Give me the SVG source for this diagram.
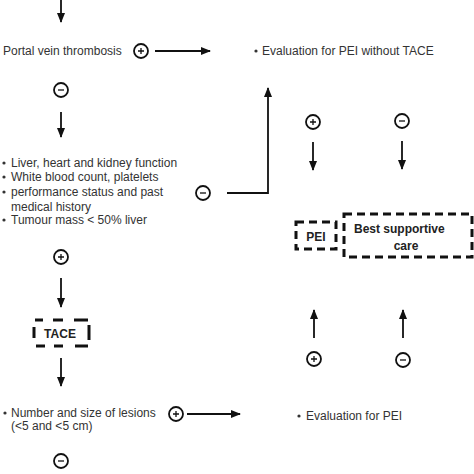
<svg xmlns="http://www.w3.org/2000/svg" width="474" height="474" viewBox="0 0 474 474">
<defs>
<marker id="ah" markerWidth="10" markerHeight="10" refX="9" refY="5" orient="auto" markerUnits="userSpaceOnUse">
<path d="M0,1 L10,5 L0,9 Z" fill="#111"/>
</marker>
<g id="plus"><circle cx="0" cy="0" r="7" fill="#fff" stroke="#111" stroke-width="1.8"/><path d="M-3,0 H3 M0,-3 V3" stroke="#111" stroke-width="1.3"/></g>
<g id="minus"><circle cx="0" cy="0" r="7" fill="#fff" stroke="#111" stroke-width="1.8"/><path d="M-3,0 H3" stroke="#111" stroke-width="1.3"/></g>
</defs>
<style>
text{font-family:"Liberation Sans",Arial,sans-serif;font-size:12px;fill:#333}
.b{font-weight:bold;fill:#222}
.c{fill:none;stroke:#111;stroke-width:1.8}
.box{fill:#fff;stroke:#111;stroke-width:3;stroke-dasharray:8 5}
.seg{fill:none;stroke:#111;stroke-width:3}
</style>
<rect width="474" height="474" fill="#fff"/>
<g id="connectors">
<path class="c" d="M61,0 V22" marker-end="url(#ah)"/>
<path class="c" d="M155,51 H210" marker-end="url(#ah)"/>
<path class="c" d="M61,112 V137" marker-end="url(#ah)"/>
<path class="c" d="M227,193 H268 V88" marker-end="url(#ah)"/>
<path class="c" d="M313,142 V170" marker-end="url(#ah)"/>
<path class="c" d="M402,141 V169" marker-end="url(#ah)"/>
<path class="c" d="M61,278 V307" marker-end="url(#ah)"/>
<path class="c" d="M61,358 V386" marker-end="url(#ah)"/>
<path class="c" d="M187,414 H240" marker-end="url(#ah)"/>
<path class="c" d="M314,338 V310" marker-end="url(#ah)"/>
<path class="c" d="M403,338 V310" marker-end="url(#ah)"/>
</g>
<g id="portal"><text x="3" y="55">Portal vein thrombosis</text></g>
<g id="plus1"><use href="#plus" x="141" y="51"/></g>
<g id="minus1"><use href="#minus" x="61" y="90"/></g>
<g id="eval1"><circle cx="256" cy="51" r="1.6" fill="#333"/><text x="262" y="55">Evaluation for PEI without TACE</text></g>
<g id="criteria">
<circle cx="4" cy="163" r="1.6" fill="#333"/><text x="11" y="167">Liver, heart and kidney function</text>
<circle cx="4" cy="177" r="1.6" fill="#333"/><text x="11" y="181">White blood count, platelets</text>
<circle cx="4" cy="192" r="1.6" fill="#333"/><text x="11" y="196">performance status and past</text>
<text x="11" y="211">medical history</text>
<circle cx="4" cy="220" r="1.6" fill="#333"/><text x="11" y="224">Tumour mass &lt; 50% liver</text>
</g>
<g id="minus2"><use href="#minus" x="203" y="193"/></g>
<g id="plus2"><use href="#plus" x="313" y="122"/></g>
<g id="minus3"><use href="#minus" x="402" y="121"/></g>
<g id="pei"><rect class="box" x="296" y="222" width="40" height="27"/><text class="b" x="316" y="241" text-anchor="middle">PEI</text></g>
<g id="bsc"><rect class="box" x="344" y="214" width="128" height="43"/><text class="b" x="354" y="233">Best supportive</text><text class="b" x="406" y="250" text-anchor="middle">care</text></g>
<g id="plus3"><use href="#plus" x="61" y="257"/></g>
<g id="tace">
<path class="seg" d="M35,320 H43 M53,320 H63 M74,320 H88 M36,346 H45 M54,346 H63 M75,346 H88 M34,327 V338 M89,325 V340"/>
<text class="b" x="60" y="338" text-anchor="middle">TACE</text>
</g>
<g id="lesions"><circle cx="5" cy="413" r="1.6" fill="#333"/><text x="11" y="417">Number and size of lesions</text><text x="11" y="430">(&lt;5 and &lt;5 cm)</text></g>
<g id="plus4"><use href="#plus" x="176" y="414"/></g>
<g id="minus4"><use href="#minus" x="61" y="461"/></g>
<g id="plus5"><use href="#plus" x="314" y="359"/></g>
<g id="minus5"><use href="#minus" x="403" y="360"/></g>
<g id="eval2"><circle cx="299" cy="416" r="1.6" fill="#333"/><text x="306" y="420">Evaluation for PEI</text></g>
</svg>
